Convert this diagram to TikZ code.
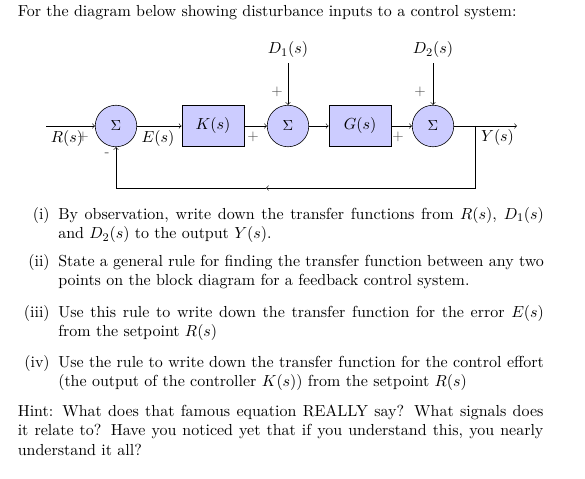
\documentclass[tikz,border=0pt]{standalone}

\tikzset{
  sumnode/.style={circle, draw, fill=blue!20, minimum size=1cm, inner sep=0pt, font=\fontsize{10}{12}\selectfont},
  blockbox/.style={rectangle, draw, fill=blue!20, minimum width=1.5cm, minimum height=1cm},
  sign/.style={text=black!70, font=\fontsize{10}{12}\selectfont},
  qtext/.style={anchor=base west, inner sep=0pt, text width=332.6pt, align=justify},
  qlabel/.style={anchor=base east, inner sep=0pt},
}

\begin{document}
\begin{tikzpicture}[x=0.6849pt, y=-0.6849pt, font=\fontsize{10.95}{13.6}\selectfont]
\useasboundingbox (0,0) rectangle (585,478);

% question
\node[name=intro, anchor=base west, inner sep=0pt] at (17.5,17) {For the diagram below showing disturbance inputs to a control system:};

% block diagram
\node[name=s1, sumnode] at (116,126) {$\Sigma$};
\node[name=k, blockbox] at (213,126) {$K(s)$};
\node[name=s2, sumnode] at (288,126) {$\Sigma$};
\node[name=g, blockbox] at (360,126) {$G(s)$};
\node[name=s3, sumnode] at (433,126) {$\Sigma$};

\node[name=d1] at (288,50) {$D_1(s)$};
\node[name=d2] at (433,50) {$D_2(s)$};

\coordinate (rin) at (46,126);
\coordinate (yout) at (517,126);
\coordinate (ybr) at (475,126);
\coordinate (fbr) at (475,188);
\coordinate (fbm) at (266,188);

\draw[->] (rin) -- (s1);
\draw[->] (s1) -- (k);
\draw[->] (k) -- (s2);
\draw[->] (s2) -- (g);
\draw[->] (g) -- (s3);
\draw[->] (s3) -- (yout);
\draw[->] (d1) -- (s2);
\draw[->] (d2) -- (s3);
\draw[->] (ybr) -- (fbr) -- (fbm);
\draw[->] (fbm) -| (s1);

\node[name=rlab] at (67,139) {$R(s)$};
\node[name=elab] at (158,139) {$E(s)$};
\node[name=ylab, anchor=west] at (476,138) {$Y(s)$};

\node[name=p1, sign] at (83,137) {+};
\node[name=m1, sign] at (107,155) {-};
\node[name=p2, sign] at (253,137) {+};
\node[name=p3, sign] at (277,92) {+};
\node[name=p4, sign] at (398,137) {+};
\node[name=p5, sign] at (420,92) {+};

% parts
\node[name=li, qlabel] at (50,219) {(i)};
\node[name=ti, qtext] at (58,219) {By observation, write down the transfer functions from $R(s)$, $D_1(s)$ and $D_2(s)$ to the output $Y(s)$.};
\node[name=lii, qlabel] at (50,266) {(ii)};
\node[name=tii, qtext] at (58,266) {State a general rule for finding the transfer function between any two points on the block diagram for a feedback control system.};
\node[name=liii, qlabel] at (50,317) {(iii)};
\node[name=tiii, qtext] at (58,317) {Use this rule to write down the transfer function for the error $E(s)$ from the setpoint $R(s)$};
\node[name=liv, qlabel] at (50,367) {(iv)};
\node[name=tiv, qtext] at (58,367) {Use the rule to write down the transfer function for the control effort (the output of the controller $K(s)$) from the setpoint $R(s)$};

\node[name=hint, anchor=base west, inner sep=0pt, text width=360pt, align=justify] at (17.5,416) {Hint: What does that famous equation REALLY say? What signals does it relate to? Have you noticed yet that if you understand this, you nearly understand it all?};
\end{tikzpicture}
\end{document}
